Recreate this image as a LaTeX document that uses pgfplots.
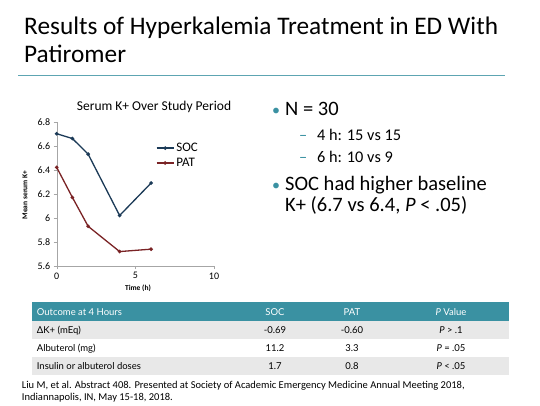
\documentclass[border=0pt]{standalone}
\usepackage{pgfplots}
\pgfplotsset{compat=1.18}
\usepackage{fontspec}
\setmainfont{Carlito}
\newfontfamily\latofont{Lato}

\definecolor{soc}{HTML}{1B3A57}
\definecolor{pat}{HTML}{7A2325}
\definecolor{tealhead}{HTML}{3A91A2}
\definecolor{tealrule}{HTML}{5DA5B2}
\definecolor{rowgray}{HTML}{E8E8E8}
\definecolor{axgray}{HTML}{A6A6A6}

\newcommand{\fs}[1]{\fontsize{#1}{#1}\selectfont}

\begin{document}
\begin{tikzpicture}[x=1pt,y=1pt]
  \fill[white] (0,0) rectangle (540,405);

  % slide title
  \node[anchor=base west,inner sep=0pt,font=\fs{25.3}] at (24,370) {Results of Hyperkalemia Treatment in ED With};
  \node[anchor=base west,inner sep=0pt,font=\fs{25.3}] at (24,342) {Patiromer};
  \draw[tealrule,line width=1pt] (18,329) -- (505,329);

  % chart
  \begin{axis}[
      at={(56.7pt,139pt)}, anchor=south west,
      scale only axis, width=157.3pt, height=144.3pt,
      xmin=0, xmax=10, ymin=5.6, ymax=6.8,
      axis lines=left, axis line style={-,axgray},
      xtick={0,5,10},
      ytick={5.6,5.8,6,6.2,6.4,6.6,6.8},
      yticklabels={5.6,5.8,6,6.2,6.4,6.6,6.8},
      tick style={axgray}, tick align=outside, major tick length=3pt,
      ticklabel style={font=\fs{10}},
      /pgf/number format/assume math mode=true,
      clip=false,
      legend style={at={(axis cs:6.3,6.64)}, anchor=north west,
        draw=none, fill=none, font=\fs{13}, row sep=1pt,
        inner sep=0pt},
      legend cell align=left,
    ]
    \addplot[soc, line width=1.3pt, mark=*, mark size=1.1pt] coordinates {
      (0, 6.70) (1, 6.66) (2, 6.53) (4, 6.02) (6, 6.29)
    };
    \addlegendentry{SOC}
    \addplot[pat, line width=1.3pt, mark=*, mark size=1.1pt] coordinates {
      (0, 6.42) (1, 6.17) (2, 5.93) (4, 5.72) (6, 5.74)
    };
    \addlegendentry{PAT}
  \end{axis}
  \node[font=\fs{13.5}] at (154,298) {Serum K+ Over Study Period};
  \node[rotate=90,font=\bfseries\fs{7.5}] at (25,210) {Mean serum K+};
  \node[font=\bfseries\fs{7.5}] at (138,117) {Time (h)};

  % bullets
  \node[anchor=base west,inner sep=0pt,font=\fs{16},text=tealhead] at (272,289) {•};
  \node[anchor=base west,inner sep=0pt,font=\fs{20.5}] at (285,289) {N = 30};
  \node[anchor=base west,inner sep=0pt,font=\fs{16.3},text=tealhead] at (299,265) {–};
  \node[anchor=base west,inner sep=0pt,font=\fs{16.3}] at (317,265) {4 h: 15 vs 15};
  \node[anchor=base west,inner sep=0pt,font=\fs{16.3},text=tealhead] at (299,242.3) {–};
  \node[anchor=base west,inner sep=0pt,font=\fs{16.3}] at (317,242.3) {6 h: 10 vs 9};
  \node[anchor=base west,inner sep=0pt,font=\fs{16},text=tealhead] at (272,215) {•};
  \node[anchor=base west,inner sep=0pt,font=\fs{20.5}] at (285,215) {SOC had higher baseline};
  \node[anchor=base west,inner sep=0pt,font=\fs{20.5}] at (285,193.3) {K+ (6.7 vs 6.4, \textit{P} < .05)};

  % table
  \fill[tealhead] (31.7,103.3) rectangle (509,84);
  \fill[rowgray] (31.7,84) rectangle (509,66.5);
  \fill[rowgray] (31.7,48.5) rectangle (509,30);
  \begin{scope}[every node/.style={inner sep=0pt,font=\latofont\fs{9.5}}]
    \node[anchor=base west,text=white] at (36.7,90) {Outcome at 4 Hours};
    \node[anchor=base,text=white] at (275,90) {SOC};
    \node[anchor=base,text=white] at (352,90) {PAT};
    \node[anchor=base,text=white] at (451,90) {\textit{P} Value};
    \node[anchor=base west] at (36.7,72) {ΔK+ (mEq)};
    \node[anchor=base] at (275,72) {-0.69};
    \node[anchor=base] at (352,72) {-0.60};
    \node[anchor=base] at (451,72) {\textit{P} > .1};
    \node[anchor=base west] at (36.7,54) {Albuterol (mg)};
    \node[anchor=base] at (275,54) {11.2};
    \node[anchor=base] at (352,54) {3.3};
    \node[anchor=base] at (451,54) {\textit{P} = .05};
    \node[anchor=base west] at (36.7,36) {Insulin or albuterol doses};
    \node[anchor=base] at (275,36) {1.7};
    \node[anchor=base] at (352,36) {0.8};
    \node[anchor=base] at (451,36) {\textit{P} < .05};
  \end{scope}

  % source
  \node[anchor=base west,inner sep=0pt,font=\fs{10.5}] at (21.7,16.5) {Liu M, et al. Abstract 408. Presented at Society of Academic Emergency Medicine Annual Meeting 2018,};
  \node[anchor=base west,inner sep=0pt,font=\fs{10.5}] at (21.7,5) {Indiannapolis, IN, May 15-18, 2018.};
\end{tikzpicture}
\end{document}
